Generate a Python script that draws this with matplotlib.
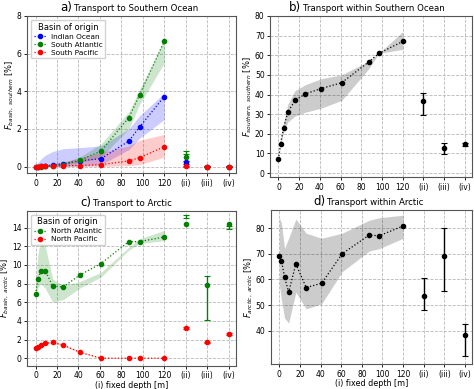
import matplotlib.pyplot as plt
import numpy as np

# depths for the (i) fixed-depth runs and positions of the extra cases
depth = [0, 2, 5, 9, 16, 26, 41, 61, 87, 97, 120]
case_x = [140, 160, 180]
xtick_pos = [0, 20, 40, 60, 80, 100, 120, 140, 160, 180]
xtick_lab = ['0', '20', '40', '60', '80', '100', '120', '(ii)', '(iii)', '(iv)']

# a) transport to Southern Ocean
indian = [0, 0, 0.02, 0.03, 0.08, 0.15, 0.3, 0.42, 1.35, 2.1, 3.72]
indian_lo = [0, 0, 0, 0, 0, 0, 0.05, 0.1, 0.9, 1.5, 2.5]
indian_hi = [0, 0.2, 0.4, 0.6, 0.8, 0.95, 1.0, 1.1, 2.0, 2.7, 3.9]
satl = [0, 0, 0, 0.02, 0.05, 0.1, 0.33, 0.82, 2.6, 3.8, 6.65]
satl_lo = [0, 0, 0, 0, 0.02, 0.05, 0.2, 0.5, 2.0, 3.3, 5.5]
satl_hi = [0, 0, 0, 0.05, 0.1, 0.2, 0.5, 1.2, 2.9, 4.1, 6.7]
spac = [0, 0, 0.02, 0.02, 0.03, 0.04, 0.05, 0.1, 0.3, 0.47, 1.05]
spac_lo = [0, 0, 0, 0, 0, 0, 0, 0, 0.05, 0.1, 0.5]
spac_hi = [0, 0.02, 0.05, 0.1, 0.15, 0.25, 0.45, 0.75, 1.1, 1.4, 1.7]
indian_case = [0.22, 0.0, 0.0]
indian_case_lo = [0.15, 0.0, 0.0]
indian_case_hi = [0.3, 0.02, 0.02]
satl_case = [0.48, 0.0, 0.0]
satl_case_lo = [0.66, 0.0, 0.0]
satl_case_hi = [0.8, 0.02, 0.02]
spac_case = [0.02, 0.0, 0.0]
spac_case_lo = [0.0, 0.0, 0.0]
spac_case_hi = [0.04, 0.04, 0.04]

# b) transport within Southern Ocean
south = [7, 15, 23, 31, 37, 40.3, 43, 46, 56.5, 61, 67]
south_lo = [7, 14, 21, 26, 29, 31, 33, 37, 53, 61, 63]
south_hi = [7, 16, 26, 35, 42, 45, 48, 50, 57, 61, 72]
south_case = [36.5, 12.8, 14.7]
south_case_lo = [29.5, 9.5, 14.0]
south_case_hi = [41.0, 15.5, 15.5]

# c) transport to Arctic
natl = [6.85, 8.45, 9.35, 9.4, 7.7, 7.65, 8.9, 10.15, 12.5, 12.5, 13.0]
natl_lo = [6.5, 7.5, 8.0, 7.5, 6.0, 6.3, 7.5, 8.7, 11.6, 12.3, 12.6]
natl_hi = [7.2, 11.0, 13.0, 12.0, 8.5, 7.8, 8.2, 9.2, 11.9, 12.8, 13.7]
npac = [1.1, 1.25, 1.4, 1.6, 1.7, 1.4, 0.65, 0.0, 0.0, 0.0, 0.0]
npac_lo = [1.0, 1.15, 1.3, 1.5, 1.6, 1.3, 0.6, 0.0, 0.0, 0.0, 0.0]
npac_hi = [1.2, 1.35, 1.5, 1.7, 1.8, 1.5, 0.7, 0.05, 0.0, 0.0, 0.0]
natl_case = [14.4, 7.8, 14.4]
natl_case_lo = [15.0, 4.1, 13.8]
natl_case_hi = [15.4, 8.85, 14.2]
npac_case = [3.2, 1.7, 2.6]
npac_case_lo = [3.1, 1.65, 2.5]
npac_case_hi = [3.3, 1.75, 2.7]

# d) transport within Arctic
arctic = [69, 67.3, 61, 55, 66, 56.8, 58.5, 70, 77.2, 77, 80.8]
arctic_lo = [58, 52, 45, 43, 55, 48.5, 50.5, 63, 71, 72, 76]
arctic_hi = [84, 82, 72, 76, 83.5, 78, 76, 78, 83, 84, 85]
arctic_case = [53.5, 69.2, 38.3]
arctic_case_lo = [48.0, 55.5, 30.0]
arctic_case_hi = [60.5, 80.0, 42.8]


def series(ax, y, lo, hi, cy, clo, chi, color, label=None, alpha=0.2):
    ax.fill_between(depth, lo, hi, color=color, alpha=alpha, linewidth=0)
    ax.plot(depth, y, ':', color=color, marker='o', markersize=3, linewidth=0.9, label=label)
    mid = (np.array(clo) + np.array(chi)) / 2
    half = (np.array(chi) - np.array(clo)) / 2
    ax.errorbar(case_x, mid, yerr=half, fmt='none', ecolor=color, capsize=2.5,
                elinewidth=1, capthick=0.8)
    ax.plot(case_x, cy, 'o', color=color, markersize=3, linestyle='none')


def style(ax, letter, title, xfrac, ylabel, xlabel=None):
    ax.set_xticks(xtick_pos)
    ax.set_xticklabels(xtick_lab)
    ax.set_xlim(-8, 187)
    ax.tick_params(labelsize=5.5, length=2.5, width=0.6, pad=1.5)
    ax.grid(True, linestyle='--', color='#b8b8b8', linewidth=0.6)
    ax.set_axisbelow(True)
    for s in ax.spines.values():
        s.set_color('#555555')
        s.set_linewidth(0.8)
    ax.set_ylabel(ylabel, fontsize=6, labelpad=0.5)
    if xlabel:
        ax.set_xlabel(xlabel, fontsize=5.8, labelpad=0.5)
    ax.text(xfrac, 1.015, letter, transform=ax.transAxes, ha='right', va='bottom', fontsize=8.5)
    ax.text(xfrac + 0.008, 1.02, title, transform=ax.transAxes, ha='left', va='bottom', fontsize=6.2)


def legend(ax):
    ax.legend(title='Basin of origin', loc='upper left', fontsize=5.3, title_fontsize=6,
              borderpad=0.4, labelspacing=0.25, handlelength=1.7, handletextpad=0.6,
              framealpha=0.9)


fig = plt.figure(figsize=(4.74, 3.89), dpi=100)
ax_a = fig.add_axes([0.057, 0.555, 0.441, 0.404])
ax_b = fig.add_axes([0.570, 0.545, 0.426, 0.414])
ax_c = fig.add_axes([0.057, 0.060, 0.441, 0.398])
ax_d = fig.add_axes([0.572, 0.064, 0.424, 0.396])

series(ax_a, indian, indian_lo, indian_hi, indian_case, indian_case_lo, indian_case_hi, 'b', 'Indian Ocean')
series(ax_a, satl, satl_lo, satl_hi, satl_case, satl_case_lo, satl_case_hi, 'g', 'South Atlantic')
series(ax_a, spac, spac_lo, spac_hi, spac_case, spac_case_lo, spac_case_hi, 'r', 'South Pacific')
ax_a.set_ylim(-0.35, 8)
ax_a.set_yticks([0, 2, 4, 6, 8])
style(ax_a, 'a)', 'Transport to Southern Ocean', 0.215, r'$F_{basin,\ southern}$ [%]')
legend(ax_a)

series(ax_b, south, south_lo, south_hi, south_case, south_case_lo, south_case_hi, 'k')
ax_b.set_ylim(-2, 80)
ax_b.set_yticks(range(0, 81, 10))
style(ax_b, 'b)', 'Transport within Southern Ocean', 0.153, r'$F_{southern,\ southern}$ [%]')

series(ax_c, natl, natl_lo, natl_hi, natl_case, natl_case_lo, natl_case_hi, 'g', 'North Atlantic')
series(ax_c, npac, npac_lo, npac_hi, npac_case, npac_case_lo, npac_case_hi, 'r', 'North Pacific')
ax_c.set_ylim(-0.8, 15.8)
ax_c.set_yticks(range(0, 15, 2))
style(ax_c, 'c)', 'Transport to Arctic', 0.31, r'$F_{basin,\ arctic}$ [%]', '(i) fixed depth [m]')
legend(ax_c)

series(ax_d, arctic, arctic_lo, arctic_hi, arctic_case, arctic_case_lo, arctic_case_hi, 'k')
ax_d.set_ylim(27, 87)
ax_d.set_yticks([40, 50, 60, 70, 80])
style(ax_d, 'd)', 'Transport within Arctic', 0.27, r'$F_{arctic,\ arctic}$ [%]', '(i) fixed depth [m]')

fig.savefig('out.png', dpi=100)
